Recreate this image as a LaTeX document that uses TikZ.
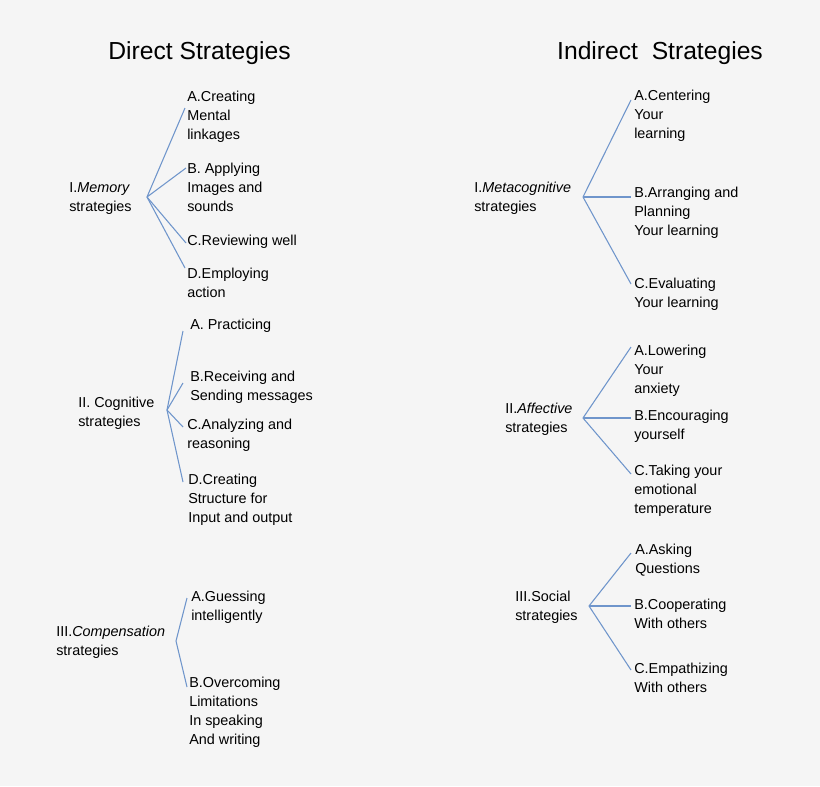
\documentclass[tikz,border=0pt]{standalone}
\usepackage{fontspec}
\setmainfont{Liberation Sans}
\definecolor{branchblue}{RGB}{111,149,203}
\definecolor{paper}{RGB}{245,245,245}

\begin{document}
\begin{tikzpicture}[x=0.75pt,y=-0.75pt,
    txt/.style={anchor=base west,inner sep=0pt,align=left,font=\fontsize{10.8pt}{14.25pt}\selectfont},
    head/.style={anchor=base,inner sep=0pt,font=\fontsize{18.5pt}{22pt}\selectfont},
    branch/.style={branchblue,line width=0.8pt}]
        \fill[paper] (0,0) rectangle (820,786);
        \useasboundingbox (0,0) rectangle (820,786);
        \node[head] (direct) at (199.5,59) {Direct Strategies};
        \node[head] (indirect) at (660,59) {Indirect\ \ Strategies};
        % memory (nodes sit on their last baseline)
        \node[txt] (mem) at (69,211) {I.\textit{Memory}\\strategies};
        \coordinate (memfork) at (147,197);
        \node[txt] (memA) at (187,139) {A.Creating\\Mental\\linkages};
        \node[txt] (memB) at (187,211) {B. Applying\\Images and\\sounds};
        \node[txt] (memC) at (187,245) {C.Reviewing well};
        \node[txt] (memD) at (187,297) {D.Employing\\action};
        \draw[branch] (memfork) -- ([shift={(-2,-31)}]memA.base west);
        \draw[branch] (memfork) -- ([shift={(-1,-43)}]memB.base west);
        \draw[branch] (memfork) -- ([shift={(-1,-2)}]memC.base west);
        \draw[branch] (memfork) -- ([shift={(-2,-29)}]memD.base west);
        % cognitive
        \node[txt] (cog) at (78,426) {II. Cognitive\\strategies};
        \coordinate (cogfork) at (167,410);
        \node[txt] (cogA) at (190,329) {A. Practicing};
        \node[txt] (cogB) at (190,400) {B.Receiving and\\Sending messages};
        \node[txt] (cogC) at (187,448) {C.Analyzing and\\reasoning};
        \node[txt] (cogD) at (188,522) {D.Creating\\Structure for\\Input and output};
        \draw[branch] (cogfork) -- ([shift={(-7,2)}]cogA.base west);
        \draw[branch] (cogfork) -- ([shift={(-7,-17)}]cogB.base west);
        \draw[branch] (cogfork) -- ([shift={(-4,-21)}]cogC.base west);
        \draw[branch] (cogfork) -- ([shift={(-5,-40)}]cogD.base west);
        % compensation
        \node[txt] (comp) at (56,655) {III.\textit{Compensation}\\strategies};
        \coordinate (compfork) at (176,641);
        \node[txt] (compA) at (191,620) {A.Guessing\\intelligently};
        \node[txt] (compB) at (189,744) {B.Overcoming\\Limitations\\In speaking\\And writing};
        \draw[branch] (compfork) -- ([shift={(-4,-22)}]compA.base west);
        \draw[branch] (compfork) -- ([shift={(-2,-57)}]compB.base west);
        % metacognitive
        \node[txt] (meta) at (474,211) {I.\textit{Metacognitive}\\strategies};
        \coordinate (metafork) at (583,197);
        \node[txt] (metaA) at (634,138) {A.Centering\\Your\\learning};
        \node[txt] (metaB) at (634,235) {B.Arranging and\\Planning\\Your learning};
        \node[txt] (metaC) at (634,307) {C.Evaluating\\Your learning};
        \draw[branch] (metafork) -- ([shift={(-3,-38)}]metaA.base west);
        \draw[branch] (metafork) -- ([shift={(-3,-38)}]metaB.base west);
        \draw[branch] (metafork) -- ([shift={(-3,-23)}]metaC.base west);
        % affective
        \node[txt] (aff) at (505,432) {II.\textit{Affective}\\strategies};
        \coordinate (afffork) at (583,418);
        \node[txt] (affA) at (634,393) {A.Lowering\\Your\\anxiety};
        \node[txt] (affB) at (634,439) {B.Encouraging\\yourself};
        \node[txt] (affC) at (634,513) {C.Taking your\\emotional\\temperature};
        \draw[branch] (afffork) -- ([shift={(-3,-46)}]affA.base west);
        \draw[branch] (afffork) -- ([shift={(-3,-21)}]affB.base west);
        \draw[branch] (afffork) -- ([shift={(-3,-39)}]affC.base west);
        % social
        \node[txt] (soc) at (515,620) {III.Social\\strategies};
        \coordinate (socfork) at (589,606);
        \node[txt] (socA) at (635,573) {A.Asking\\Questions};
        \node[txt] (socB) at (634,628) {B.Cooperating\\With others};
        \node[txt] (socC) at (634,692) {C.Empathizing\\With others};
        \draw[branch] (socfork) -- ([shift={(-4,-20)}]socA.base west);
        \draw[branch] (socfork) -- ([shift={(-3,-22)}]socB.base west);
        \draw[branch] (socfork) -- ([shift={(-3,-22)}]socC.base west);
    \end{tikzpicture}
\end{document}
